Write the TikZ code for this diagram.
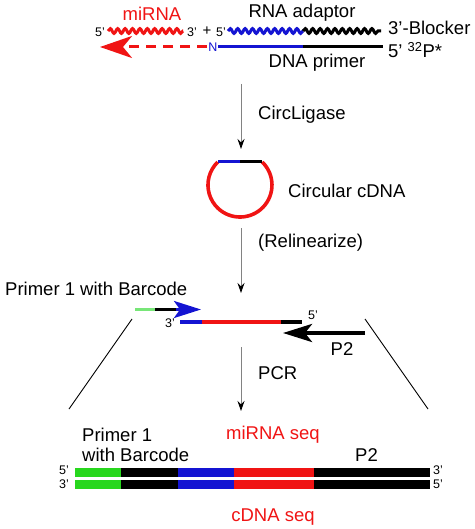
\documentclass[tikz,border=0pt]{standalone}
\usepackage{fontspec}
\setmainfont{Liberation Sans}
\usetikzlibrary{arrows.meta,decorations.pathmorphing}
\definecolor{myred}{RGB}{240,20,20}
\definecolor{myblue}{RGB}{20,20,210}
\definecolor{mygreen}{RGB}{40,215,30}
\definecolor{lightgreen}{RGB}{120,230,120}
\definecolor{arrowgray}{RGB}{130,130,130}
\begin{document}
\begin{tikzpicture}[x=1pt,y=-1pt,
  lbl/.style={inner sep=0pt,font=\fontsize{18.5}{20}\selectfont},
  sm/.style={inner sep=0pt,font=\fontsize{12.5}{13}\selectfont},
  wavy/.style={line width=3pt,decorate,decoration={snake,segment length=7.4pt,amplitude=2.4pt}},
  strand/.style={line width=3pt},
  thickstrand/.style={line width=4pt},
  flow/.style={draw=arrowgray,line width=0.9pt,-{Stealth[length=10pt,width=7pt,black]}},
  bar/.style={draw=none}
]
\useasboundingbox (0,0) rectangle (474,529);

% ---------- top: miRNA + adaptor ----------
\node[lbl,text=myred] (mirna) at (152,14) {miRNA};
\node[lbl] (rnaad) at (302,13) {RNA adaptor};
\node[sm] (m5) at (100,32) {5'};
\coordinate (mwa) at (108,31);
\coordinate (mwb) at (183,31);
\draw[wavy,myred] (mwa) -- (mwb);
\node[sm] (m3) at (192,32) {3'};
\node[sm,font=\fontsize{15}{15}\selectfont] (plus) at (207,31) {+};
\node[sm] (a5) at (221,32) {5'};
\coordinate (awa) at (228,31);
\coordinate (awm) at (303,31);
\coordinate (awb) at (381,31);
\draw[wavy,myblue] (awa) -- (awm);
\draw[wavy,black] (awm) -- (awb);
\node[lbl,anchor=west] (blocker) at (388,28) {3'-Blocker};

% DNA primer
\node[sm,text=myblue] (nn) at (213,47) {N};
\coordinate (pa) at (218,47);
\coordinate (pm) at (303,47);
\coordinate (pb) at (383,47);
\draw[strand,myblue] (pa) -- (pm);
\draw[strand,black] (pm) -- (pb);
\node[lbl,anchor=west] (p32) at (388,50) {5' \textsuperscript{32}P*};
\node[lbl] (dnap) at (317,63) {DNA primer};
\coordinate (dash0) at (207,47);
\coordinate (dashtip) at (100,47);
\draw[strand,myred,dash pattern=on 10pt off 7pt,-{Stealth[length=32pt,width=22pt,inset=9pt]}] (dash0) -- (dashtip);

% ---------- arrow 1 ----------
\coordinate (f1a) at (241,84);
\coordinate (f1b) at (241,149);
\draw[flow] (f1a) -- (f1b);
\node[lbl,anchor=west] (circl) at (258,115) {CircLigase};

% ---------- circle ----------
\coordinate (cl) at (217.8,162);
\coordinate (cm) at (240,162);
\coordinate (cr) at (262.2,162);
\draw[line width=3.6pt,myred] (cr) arc[start angle=-46,end angle=226,radius=32];
\draw[line width=3pt,myblue] (cl) -- (cm);
\draw[line width=3pt,black] (cm) -- (cr);
\node[lbl,anchor=west] (circd) at (288,191) {Circular cDNA};

% ---------- arrow 2 ----------
\coordinate (f2a) at (241,228);
\coordinate (f2b) at (241,293);
\draw[flow] (f2a) -- (f2b);
\node[lbl,anchor=west] (relin) at (258,243) {(Relinearize)};

% ---------- linear template with primers ----------
\node[lbl,anchor=west] (p1lab) at (5,289) {Primer 1 with Barcode};
\coordinate (g1) at (135,309.5);
\coordinate (g2) at (155,309.5);
\coordinate (g3) at (176,309.5);
\coordinate (g4) at (201,309.5);
\draw[strand,lightgreen] (g1) -- (g2);
\draw[strand,myblue,-{Stealth[length=27pt,width=17pt,inset=6pt]}] (g2) -- (g4);
\draw[strand,black] (g2) -- (g3);

\node[sm] (t3) at (170,323) {3'};
\coordinate (t1) at (180,322);
\coordinate (t2) at (202,322);
\coordinate (t3c) at (281,322);
\coordinate (t4) at (302,322);
\draw[thickstrand,myblue] (t1) -- (t2);
\draw[thickstrand,myred] (t2) -- (t3c);
\draw[thickstrand,black] (t3c) -- (t4);
\node[sm] (t5) at (313,315) {5'};

\coordinate (p2a) at (365,333);
\coordinate (p2b) at (283,333);
\draw[thickstrand,black,-{Stealth[length=29pt,width=18pt,inset=7pt]}] (p2a) -- (p2b);
\node[lbl] (p2lab) at (342,349) {P2};

% zoom lines
\coordinate (zl1) at (132,319);
\coordinate (zl2) at (69,409);
\coordinate (zr1) at (365,319);
\coordinate (zr2) at (428,409);
\draw[line width=0.9pt] (zl1) -- (zl2);
\draw[line width=0.9pt] (zr1) -- (zr2);

% ---------- arrow 3 ----------
\coordinate (f3a) at (241,347);
\coordinate (f3b) at (241,411);
\draw[flow] (f3a) -- (f3b);
\node[lbl,anchor=west] (pcr) at (258,373) {PCR};

% ---------- final product ----------
\node[lbl,anchor=west] (bp1) at (82,435) {Primer 1};
\node[lbl,anchor=west] (bp1b) at (82,455) {with Barcode};
\node[lbl,text=myred] (bmir) at (273,435) {miRNA seq};
\node[lbl,anchor=west] (bp2) at (355,455) {P2};

\fill[mygreen] (75,468) rectangle (121,477);
\fill[black] (121,468) rectangle (178,477);
\fill[myblue] (178,468) rectangle (234,477);
\fill[myred] (234,468) rectangle (314,477);
\fill[black] (314,468) rectangle (430,477);

\fill[mygreen] (75,480) rectangle (121,489);
\fill[black] (121,480) rectangle (178,489);
\fill[myblue] (178,480) rectangle (234,489);
\fill[myred] (234,480) rectangle (314,489);
\fill[black] (314,480) rectangle (430,489);

\node[sm] (l5) at (64,470) {5'};
\node[sm] (l3) at (64,484) {3'};
\node[sm] (r3) at (438,470) {3'};
\node[sm] (r5) at (438,484) {5'};
\node[lbl,text=myred] (bcd) at (273,517) {cDNA seq};
\end{tikzpicture}
\end{document}
